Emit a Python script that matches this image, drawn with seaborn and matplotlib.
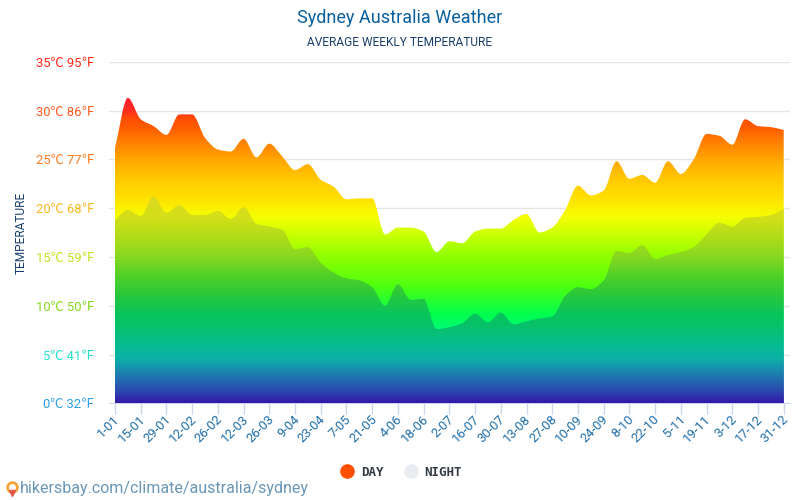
import numpy as np
import pandas as pd
import seaborn as sns
import matplotlib.pyplot as plt
from matplotlib.colors import LinearSegmentedColormap
from matplotlib.lines import Line2D
from matplotlib.path import Path
from matplotlib.patches import PathPatch
from matplotlib.transforms import ScaledTranslation

tick_labels = ['1-01', '15-01', '29-01', '12-02', '26-02', '12-03', '26-03', '9-04', '23-04',
               '7-05', '21-05', '4-06', '18-06', '2-07', '16-07', '30-07', '13-08', '27-08',
               '10-09', '24-09', '8-10', '22-10', '5-11', '19-11', '3-12', '17-12', '31-12']

day = [26.2, 31.3, 29.1, 28.4, 27.5, 29.6, 29.6, 27.2, 26.0, 25.8, 27.1, 25.2, 26.6, 25.3,
       23.9, 24.5, 22.9, 22.2, 20.9, 21.0, 21.0, 17.3, 18.0, 18.0, 17.6, 15.5, 16.6, 16.4,
       17.6, 17.9, 17.9, 18.8, 19.4, 17.5, 18.0, 19.8, 22.3, 21.3, 21.8, 24.8, 23.0, 23.4,
       22.6, 24.8, 23.5, 25.0, 27.6, 27.4, 26.5, 29.1, 28.4, 28.3, 28.0]
night = [18.8, 19.8, 19.2, 21.2, 19.5, 20.3, 19.3, 19.3, 19.7, 18.9, 20.1, 18.4, 18.1, 17.8,
         15.8, 16.0, 14.4, 13.4, 12.8, 12.6, 11.9, 10.0, 12.2, 10.6, 10.7, 7.6, 7.8, 8.2,
         9.2, 8.3, 9.3, 8.1, 8.4, 8.7, 8.9, 11.0, 11.9, 11.7, 12.6, 15.6, 15.4, 16.2,
         14.8, 15.2, 15.5, 16.0, 17.3, 18.5, 18.1, 19.0, 19.1, 19.3, 19.9]

temp_c = [0, 5, 10, 15, 20, 25, 30, 35]
temp_f = [32, 41, 50, 59, 68, 77, 86, 95]
temp_colors = ['#2b9fe3', '#22e0c8', '#84d81e', '#c4e01e', '#f7b81e', '#ff7a1e', '#ff5a22', '#ff2a1a']

FONT = ['Roboto', 'Noto Sans CJK SC', 'DejaVu Sans']
BLUE = '#0a5f9e'
NAVY = '#1a3f6b'

day_stops = [(0, '#3318a8'), (7, '#00f880'), (9, '#00ff50'), (12, '#50ff10'), (15, '#90ff00'),
             (17.5, '#d0ff00'), (19, '#f5ff00'), (21, '#ffe000'), (23, '#ffc800'), (25, '#ffa500'),
             (27, '#ff7a00'), (28, '#ff6000'), (29, '#ff5000'), (30, '#ff2c20'), (31, '#ff1f30'), (35, '#ff0040')]
night_stops = [(0, '#3318a8'), (1.4, '#2a50b0'), (3, '#1c80b0'), (4.5, '#0cb0a8'), (6, '#06bd90'),
               (7.5, '#08c070'), (9, '#08c45c'), (11, '#28c83c'), (13, '#50d028'), (15, '#88d820'),
               (17, '#b0dc18'), (19, '#d4e018'), (21, '#dcd820'), (35, '#dcd820')]


def make_cmap(stops):
    return LinearSegmentedColormap.from_list('t', [(v / 35, c) for v, c in stops], N=512)


def area_path(y):
    # monotone cubic outline of the area down to zero
    x = np.arange(len(y), dtype=float)
    y = np.array(y, dtype=float)
    d = np.diff(y)
    m = np.zeros(len(y))
    m[0], m[-1] = d[0], d[-1]
    for i in range(1, len(y) - 1):
        if d[i - 1] * d[i] > 0:
            m[i] = 2 * d[i - 1] * d[i] / (d[i - 1] + d[i])
    verts = [(x[0], 0), (x[0], y[0])]
    codes = [Path.MOVETO, Path.LINETO]
    for i in range(len(y) - 1):
        verts += [(x[i] + 1 / 3, y[i] + m[i] / 3), (x[i + 1] - 1 / 3, y[i + 1] - m[i + 1] / 3), (x[i + 1], y[i + 1])]
        codes += [Path.CURVE4] * 3
    verts += [(x[-1], 0), (x[0], 0)]
    codes += [Path.LINETO, Path.CLOSEPOLY]
    return Path(verts, codes)


sns.set_style('white')
plt.rcParams['font.family'] = FONT

W, H = 800, 500
fig = plt.figure(figsize=(8, 5), dpi=100)
ax = fig.add_axes([109 / W, 1 - 403.3 / H, (790 - 109) / W, (403.3 - 61.7) / H])

idx = np.arange(len(day))
df = pd.DataFrame({'week': np.r_[idx, idx], 'temp': day + night,
                   'series': ['DAY'] * len(day) + ['NIGHT'] * len(night)})
sns.lineplot(data=df, x='week', y='temp', hue='series', palette=['#ff5000', '#e9edf2'],
             linewidth=0, legend=False, ax=ax, zorder=1)

xlim = (-6 / 12.86, 675 / 12.86)
grad = np.linspace(0, 1, 1024)[:, None]
for vals, stops, z in [(day, day_stops, 2), (night, night_stops, 3)]:
    im = ax.imshow(grad, origin='lower', aspect='auto', extent=(xlim[0], xlim[1], 0, 35),
                   cmap=make_cmap(stops), vmin=0, vmax=1, zorder=z, interpolation='bilinear')
    patch = PathPatch(area_path(vals), transform=ax.transData, fc='none', ec='none')
    ax.add_patch(patch)
    im.set_clip_path(patch)

ax.set_xlim(*xlim)
ax.set_ylim(0, 35)
ax.set_yticks(temp_c)
ax.set_yticklabels([f'{c}℃ {f}℉' for c, f in zip(temp_c, temp_f)], fontsize=9.4)
for lab, col in zip(ax.get_yticklabels(), temp_colors):
    lab.set_color(col)
ax.set_xticks(idx[::2])
ax.set_xticklabels(tick_labels, rotation=45, ha='right', rotation_mode='anchor',
                   fontsize=9.4, color='#1f6ea8')
ax.tick_params(axis='x', length=8, width=1, color='#ccd6eb', pad=-1, bottom=True)
ax.tick_params(axis='y', length=0, pad=15)
shift = ScaledTranslation(-2 / 100, 0, fig.dpi_scale_trans)
for lab in ax.get_xticklabels():
    lab.set_transform(lab.get_transform() + shift)
shift_y = ScaledTranslation(6 / 100, 0, fig.dpi_scale_trans)
for lab in ax.get_yticklabels():
    lab.set_transform(lab.get_transform() + shift_y)
ax.grid(axis='y', color='#e6e6e6', linewidth=1, zorder=0)
ax.set_axisbelow(True)
sns.despine(ax=ax, left=True)
ax.spines['bottom'].set_color('#ccd6eb')
ax.set_xlabel('')
ax.set_ylabel('')

fig.text(400 / W, 1 - 18 / H, 'Sydney Australia Weather', ha='center', va='center', fontsize=13, color=BLUE)
fig.text(400 / W, 1 - 42 / H, 'AVERAGE WEEKLY TEMPERATURE', ha='center', va='center', fontsize=8.6, color=NAVY)
fig.text(21.5 / W, 1 - 232.5 / H, 'TEMPERATURE', ha='center', va='center', rotation=90, fontsize=8.6, color=NAVY)

handles = [Line2D([], [], marker='o', ls='', ms=9.5, color='#ff5000', label='DAY'),
           Line2D([], [], marker='o', ls='', ms=9.5, color='#e9edf2', label='NIGHT')]
fig.legend(handles=handles, loc='center', bbox_to_anchor=(401.5 / W, 1 - 472 / H), ncol=2, frameon=False,
           handlelength=1, handletextpad=0.6, columnspacing=1.65,
           prop={'family': 'DejaVu Sans Mono', 'weight': 'bold', 'size': 9})
for t in fig.legends[0].get_texts():
    t.set_color('#333a45')

fig.text(20 / W, 1 - 489 / H, 'hikersbay.com/climate/australia/sydney', ha='left', va='center',
         fontsize=11.55, color='#6a97b8')
fig.add_artist(Line2D([12 / W], [1 - 487 / H], marker='o', ms=7, mfc='#ffffff', mec='#f2a33a', mew=2))
fig.add_artist(Line2D([12 / W], [1 - 493 / H], marker='v', ms=4, color='#e2574c'))

fig.savefig('out.png', dpi=100)
